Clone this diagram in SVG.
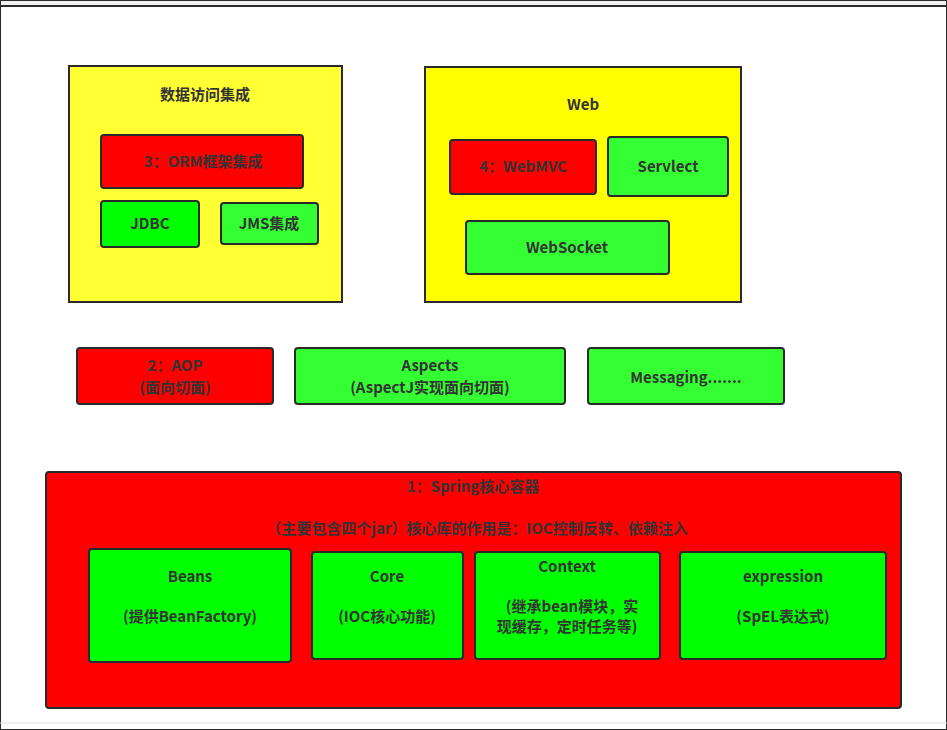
<svg xmlns="http://www.w3.org/2000/svg" width="947" height="730" viewBox="0 0 947 730">
<style>
rect{stroke:#2a2a2a;stroke-width:2}
text{font-family:"Noto Sans CJK SC","Noto Sans",sans-serif;font-weight:bold;fill:#333;text-anchor:middle;font-size:15px}
.r{fill:#ff0000}.g{fill:#33ff33}.g2{fill:#00ff00}
</style>
<rect x="0" y="0" width="947" height="730" fill="#fff" stroke="none"/>
<rect x="0" y="0" width="947" height="6" fill="#f2f2f2" stroke="none"/>
<line x1="0" y1="723" x2="947" y2="723" stroke="#ddd" stroke-width="1"/>
<g id="data"><rect x="69" y="66" width="273" height="236" fill="#ffff33"/><text x="205" y="100" font-size="16">数据访问集成</text></g>
<g id="orm"><rect class="r" x="101" y="135" width="202" height="53" rx="3"/><text x="203" y="167">3：ORM框架集成</text></g>
<g id="jdbc"><rect class="g2" x="101" y="201" width="98" height="46" rx="3"/><text x="150" y="229">JDBC</text></g>
<g id="jms"><rect class="g" x="221" y="203" width="97" height="41" rx="3"/><text x="269" y="229">JMS集成</text></g>
<g id="web"><rect x="425" y="67" width="316" height="235" fill="#ffff00"/><text x="583" y="110" font-size="16">Web</text></g>
<g id="webmvc"><rect class="r" x="450" y="140" width="146" height="54" rx="3"/><text x="523" y="172">4：WebMVC</text></g>
<g id="servlect"><rect class="g" x="608" y="137" width="120" height="59" rx="3"/><text x="668" y="172">Servlect</text></g>
<g id="websocket"><rect class="g" x="466" y="221" width="203" height="53" rx="3"/><text x="567" y="253">WebSocket</text></g>
<g id="aop"><rect class="r" x="77" y="348" width="196" height="56" rx="3"/><text x="175" y="371" font-size="16">2：AOP</text><text x="175" y="393" font-size="16">(面向切面)</text></g>
<g id="aspects"><rect class="g" x="295" y="348" width="270" height="56" rx="3"/><text x="430" y="371" font-size="16">Aspects</text><text x="430" y="393" font-size="16">(AspectJ实现面向切面)</text></g>
<g id="messaging"><rect class="g" x="588" y="348" width="196" height="56" rx="3"/><text x="686" y="383" font-size="16">Messaging.......</text></g>
<g id="spring"><rect class="r" x="46" y="472" width="855" height="236" rx="3"/><text x="473" y="492">1：Spring核心容器</text><text x="477" y="534">（主要包含四个jar）核心库的作用是：IOC控制反转、依赖注入</text></g>
<g id="beans"><rect class="g2" x="89" y="549" width="202" height="113" rx="3"/><text x="190" y="582">Beans</text><text x="190" y="622">(提供BeanFactory)</text></g>
<g id="core"><rect class="g2" x="312" y="552" width="151" height="107" rx="3"/><text x="387" y="582">Core</text><text x="387" y="622">(IOC核心功能)</text></g>
<g id="context"><rect class="g2" x="475" y="552" width="185" height="107" rx="3"/><text x="567" y="572">Context</text><text x="572" y="612">(继承bean模块，实</text><text x="567" y="632">现缓存，定时任务等)</text></g>
<g id="expression"><rect class="g2" x="680" y="552" width="206" height="107" rx="3"/><text x="783" y="582">expression</text><text x="783" y="622">(SpEL表达式)</text></g>
<g id="connectors"/>
</svg>
